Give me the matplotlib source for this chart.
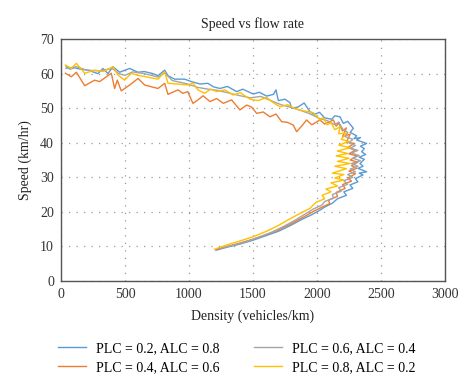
import matplotlib

matplotlib.use("Agg")
import matplotlib.pyplot as plt

plt.rcParams["font.family"] = ["Liberation Serif", "DejaVu Serif"]

LABELS = [
    "PLC = 0.2, ALC = 0.8",
    "PLC = 0.4, ALC = 0.6",
    "PLC = 0.6, ALC = 0.4",
    "PLC = 0.8, ALC = 0.2",
]
COLORS = ["#5B9BD5", "#ED7D31", "#A5A5A5", "#FFC000"]

# density (vehicles/km), speed (km/hr)
BLUE_DENSITY = [40, 70, 107, 150, 211, 250, 289, 328, 367, 406, 458, 500, 536, 602, 650, 719,
                758, 810, 836, 888, 966, 1018, 1086, 1148, 1190, 1242, 1300, 1372, 1420, 1502,
                1550, 1607, 1660, 1680, 1698, 1750, 1789, 1802, 1850, 1900, 1945, 1980, 2020,
                2060, 2115, 2140, 2180, 2206, 2240, 2284, 2260, 2310, 2290, 2340, 2310, 2388,
                2340, 2370, 2349, 2380, 2330, 2370, 2336, 2360, 2320, 2388, 2330, 2360, 2300,
                2320, 2258, 2280, 2210, 2230, 2160, 2120, 2060, 2023, 1950, 1880, 1800, 1700,
                1600, 1500, 1400, 1300, 1210]
BLUE_SPEED = [62, 61.3, 61.7, 61.3, 61, 60.5, 60, 61.5, 60, 62, 60.4, 61, 61.5, 60.4, 60.6, 60,
              59.4, 61, 59.4, 58.4, 58.4, 57.7, 57, 57.2, 56.2, 55.7, 56.3, 54.8, 55.5, 54.1,
              54.6, 53.5, 54, 55.3, 52.2, 52.6, 51.6, 50, 50.3, 51.5, 49, 48.2, 48.8,
              47.2, 46.8, 47.8, 47.5, 45.6, 46.2, 44.2, 43, 42, 41.2, 41.5, 40.8, 39.8,
              39, 38.3, 37.4, 36.6, 35.8, 35.2, 34, 33.2, 32.6, 31.6, 31.2, 30.7, 29.6,
              28.7, 27.8, 26.8, 25.8, 24.8, 23.8, 22.5, 21.4, 20.5, 19, 17.8, 16.2, 14.4,
              13.1, 11.8, 10.7, 9.8, 8.9]

ORANGE_DENSITY = [34, 81, 120, 185, 263, 302, 393, 419, 440, 471, 540, 602, 654, 758, 810, 836,
                  914, 953, 990, 1031, 1070, 1110, 1164, 1216, 1268, 1333, 1398, 1451, 1490,
                  1529, 1580, 1633, 1680, 1724, 1770, 1815, 1841, 1880, 1919, 1960, 2023, 2060,
                  2128, 2150, 2170, 2200, 2230, 2200, 2260, 2230, 2290, 2240, 2300, 2250, 2310,
                  2260, 2320, 2270, 2310, 2250, 2300, 2240, 2270, 2200, 2220, 2150, 2160, 2090,
                  2100, 2030, 1980, 1900, 1800, 1700, 1600, 1500, 1400, 1300, 1220]
ORANGE_SPEED = [60.1, 59.1, 60.4, 56.5, 58.1, 57.7, 60.1, 55.7, 58.1, 55, 56.8, 58.6, 56.7, 55.7,
                57.2, 54, 55.3, 54.3, 54.8, 51.4, 52.4, 53.6, 51.9, 52.8, 51.4, 52.4, 49.5,
                50.9, 50.3, 48.5, 48.9, 47.5, 48.3, 46.1, 45.9, 45.1, 43.2, 44.8, 46.6, 45.2,
                46.6, 45.4, 46.6, 44.8, 45.7, 43.4, 44.3, 41.8, 42.5, 40.2, 39.8, 38.6, 37.9,
                36.8, 36.2, 35, 34.4, 33.4, 32.6, 31.8, 31, 29.8, 28.9, 27.9, 26.8, 25.6,
                24.5, 23.4, 22.4, 21.2, 20.3, 18.6, 16.6, 14.8, 13.4, 12.1, 11, 10, 9.2]

GRAY_DENSITY = [40, 120, 200, 300, 400, 450, 500, 560, 650, 760, 810, 870, 990, 1070, 1150,
                1216, 1300, 1400, 1480, 1560, 1640, 1720, 1800, 1870, 1950, 2020, 2080, 2140,
                2170, 2200, 2240, 2220, 2280, 2250, 2300, 2260, 2320, 2270, 2330, 2280, 2340,
                2270, 2320, 2260, 2300, 2240, 2280, 2210, 2240, 2170, 2190, 2120, 2130, 2060,
                2040, 1970, 1900, 1820, 1740, 1640, 1540, 1440, 1340, 1250]
GRAY_SPEED = [61.5, 62, 61, 60.8, 61.5, 60, 59.5, 60.5, 60, 59, 60.2, 58, 57, 56, 55.5,
              55.2, 54.5, 53.6, 53, 53.4, 52.2, 51, 50.2, 49.4, 48.3, 47, 46.4, 45.2,
              46, 44, 43, 41.8, 41, 40, 39.2, 38.4, 37.8, 37, 36.3, 35.5, 34.8,
              34, 33.2, 32.4, 31.6, 30.8, 30, 29, 28, 27, 26, 25, 24, 23,
              22, 20.8, 19.2, 17.4, 15.8, 14, 12.6, 11.3, 10.3, 9.5]

YELLOW_DENSITY = [34, 81, 120, 185, 263, 330, 406, 445, 497, 549, 600, 650, 700, 758, 810, 836,
                  910, 992, 1030, 1070, 1122, 1170, 1216, 1280, 1346, 1400, 1477, 1540, 1607,
                  1650, 1711, 1770, 1841, 1900, 1971, 2000, 2023, 2050, 2080, 2110, 2140, 2180,
                  2170, 2230, 2190, 2250, 2170, 2260, 2160, 2240, 2150, 2250, 2160, 2260, 2140,
                  2230, 2120, 2210, 2140, 2210, 2110, 2160, 2070, 2110, 2040, 2060, 1995, 1965,
                  1945, 1880, 1850, 1780, 1700, 1600, 1500, 1400, 1300, 1200]
YELLOW_SPEED = [62.5, 61.5, 63, 60.1, 61, 60.6, 62, 59.6, 58.1, 60.1, 59.5, 59.2, 58.8, 58.4,
                60.5, 57.2, 57, 56.7, 57.3, 55.3, 54.3, 55.5, 54.8, 55.3, 53.8, 54.5, 52.6,
                52.2, 53.1, 51.8, 50.4, 51, 49.7, 49.2, 48.7, 47.6, 46.6, 47.3, 45.2, 45.8,
                43.8, 44.6, 42.6, 42.8, 41, 40.4, 39.3, 38.6, 37.6, 36.9, 36.2, 35.5, 34.6,
                34, 33.2, 32.5, 31.2, 30.8, 29.8, 29.2, 28.4, 27.5, 26.6, 25.8, 24.8, 23.8,
                22.8, 21.8, 21, 19.8, 19.2, 17.8, 16.1, 14.3, 12.8, 11.6, 10.5, 9.2]

SERIES = [
    (BLUE_DENSITY, BLUE_SPEED),
    (ORANGE_DENSITY, ORANGE_SPEED),
    (GRAY_DENSITY, GRAY_SPEED),
    (YELLOW_DENSITY, YELLOW_SPEED),
]

fig = plt.figure(figsize=(4.74, 3.89), dpi=100)
ax = fig.add_axes([0.1287, 0.2776, 0.81, 0.622])

for (density, speed), color, label in zip(SERIES, COLORS, LABELS):
    ax.plot(density, speed, color=color, linewidth=1.0, label=label)

ax.set_xlim(0, 3000)
ax.set_ylim(0, 70)
ax.set_xticks(range(0, 3001, 500))
ax.set_yticks(range(0, 71, 10))
ax.tick_params(length=0, labelsize=10, pad=5, colors="#333333")
ax.grid(True, color="#9a9a9a", linestyle=(0, (1, 5)), linewidth=0.9)
for spine in ax.spines.values():
    spine.set_color("#555555")
    spine.set_linewidth(1.0)

ax.set_title("Speed vs flow rate", fontsize=10, pad=8, color="#222222")
ax.set_xlabel("Density (vehicles/km)", fontsize=10, color="#222222", labelpad=6)
ax.set_ylabel("Speed (km/hr)", fontsize=10, color="#222222", labelpad=6)

fig.legend(
    loc="upper left",
    bbox_to_anchor=(0.123, 0.12),
    ncol=2,
    frameon=False,
    fontsize=10,
    handlelength=2.0,
    handletextpad=0.7,
    columnspacing=2.5,
    labelspacing=0.4,
    borderpad=0,
    borderaxespad=0,
)

fig.savefig("out.png", dpi=100)
